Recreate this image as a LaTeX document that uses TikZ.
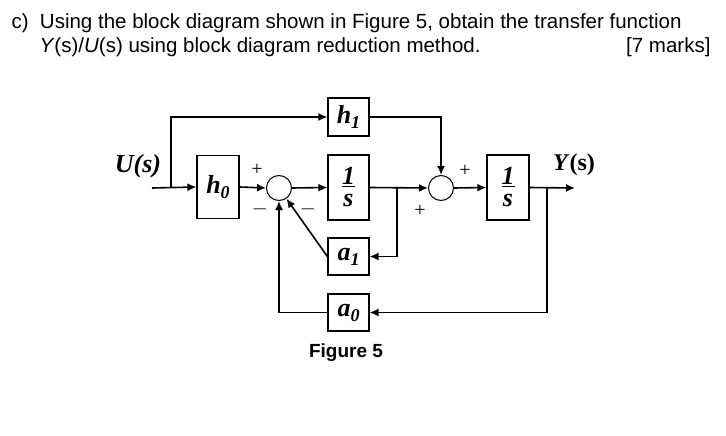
\documentclass[tikz,border=0pt]{standalone}
\usepackage{fontspec}
\setmainfont{Liberation Serif}
\newfontfamily\hsans{Liberation Sans}
\usetikzlibrary{arrows.meta}
\newcommand{\sbi}[1]{\raisebox{-5pt}{\fontsize{18}{18}\selectfont #1}}
\begin{document}
\begin{tikzpicture}[x=1pt,y=-1pt,
  blk/.style={draw,line width=1.2pt,inner sep=0pt},
  sumj/.style={draw,circle,line width=1pt,minimum size=25pt,inner sep=0pt},
  ln/.style={line width=1.6pt},
  ar/.style={ln,-{Latex[length=9pt,width=8pt]}},
  lab/.style={font=\fontsize{26}{28}\selectfont\bfseries\itshape},
  sg/.style={font=\fontsize{20}{20}\selectfont},
  hd/.style={font=\hsans\fontsize{20.5}{22}\selectfont}]
\useasboundingbox (0,0) rectangle (726,436);
\node[anchor=west,hd] (t1) at (8,23) {c)\ \ Using the block diagram shown in Figure 5, obtain the transfer function};
\node[anchor=west,hd] (t2) at (36,47) {\textit{Y}(s)/\textit{U}(s) using block diagram reduction method.};
\node[anchor=east,hd] (t3) at (714,47) {[7 marks]};
\node[blk,minimum width=42pt,minimum height=63pt] (h0) at (218,187) {};
\node[lab] at (h0) {h\sbi{0}};
\node[sumj] (s1) at (279,188) {};
\node[blk,minimum width=41pt,minimum height=65pt] (g1) at (348.5,187.5) {};
\node[lab,align=center] at (g1) {\underline{1}\\[-6pt]s};
\node[blk,minimum width=41pt,minimum height=38pt] (h1) at (348.5,117) {};
\node[lab] at (h1) {h\sbi{1}};
\node[sumj] (s2) at (441,188) {};
\node[blk,minimum width=42pt,minimum height=65pt] (g2) at (508,187.5) {};
\node[lab,align=center] at (g2) {\underline{1}\\[-6pt]s};
\node[blk,minimum width=41pt,minimum height=37pt] (a1) at (348.5,256.5) {};
\node[lab] at (a1) {a\sbi{1}};
\node[blk,minimum width=41pt,minimum height=37pt] (a0) at (348.5,312.5) {};
\node[lab] at (a0) {a\sbi{0}};
\node[lab] (U) at (138,166) {U(s)};
\node[font=\fontsize{24}{26}\selectfont\bfseries] (Y) at (574,165) {\textit{Y}(s)};
\node[font=\hsans\bfseries\fontsize{19}{21}\selectfont] (fig) at (346,353) {Figure 5};
\coordinate (in) at (152,188);
\coordinate (b0) at (171,188);
\coordinate (b1) at (397,188);
\coordinate (b2) at (547,188);
\coordinate (out) at (575,188);
\draw[ar] (in) -- (h0.west);
\draw[ar] (b0) |- (h1.west);
\draw[ar] (h0.east) -- (s1.west);
\draw[ar] (s1.east) -- (g1.west);
\draw[ar] (g1.east) -- (s2.west);
\draw[ar] (h1.east) -| (s2.north);
\draw[ar] (s2.east) -- (g2.west);
\draw[ar] (g2.east) -- (out);
\draw[ar] (b1) |- (a1.east);
\draw[ar] (b2) |- (a0.east);
\draw[ar] (a0.west) -| (s1.south);
\draw[ar] (a1.west) -- (s1.-55);
\node[sg] at (257,170) {+};
\node[sg] at (260,209) {$-$};
\node[sg] at (308,209) {$-$};
\node[sg] at (465,171) {+};
\node[sg] at (420,211) {+};
\end{tikzpicture}
\end{document}
